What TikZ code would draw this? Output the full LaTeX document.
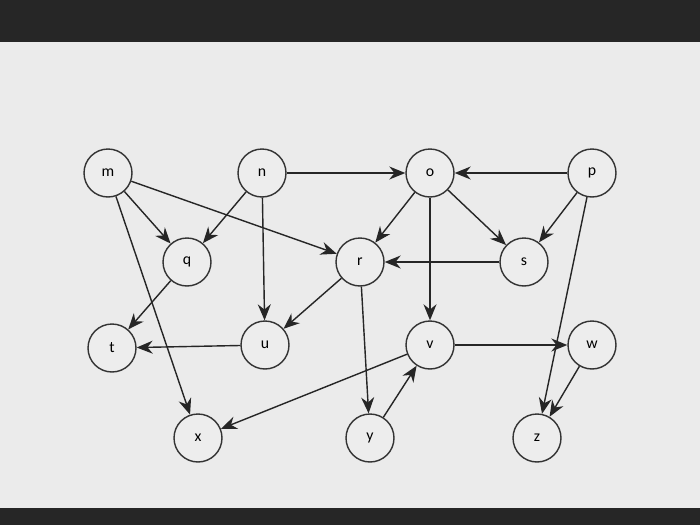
\documentclass[tikz,border=0pt]{standalone}
\usepackage{fontspec}
\setmainfont{Carlito}
\usetikzlibrary{arrows.meta}
\tikzset{
  vertex/.style={circle,draw=black!80,thick,fill=black!7,minimum size=0.96cm,inner sep=0pt,font=\small},
  edge/.style={thick,black!85,-{Stealth[length=3.2mm,width=2.6mm]}}
}
\begin{document}
\begin{tikzpicture}[x=0.02cm,y=-0.02cm]
\useasboundingbox (0,0) rectangle (700,525);
% screen
\fill [black!85] (0,0) rectangle (700,525);
\fill [black!8] (0,42) rectangle (700,508);

% Vertices
\node [vertex] (m) at (108,173) {m};
\node [vertex] (n) at (262,173) {n};
\node [vertex] (o) at (430,173) {o};
\node [vertex] (p) at (592,173) {p};
\node [vertex] (q) at (187,262) {q};
\node [vertex] (r) at (360,262) {r};
\node [vertex] (s) at (524,262) {s};
\node [vertex] (t) at (112,348) {t};
\node [vertex] (u) at (265,345) {u};
\node [vertex] (v) at (430,345) {v};
\node [vertex] (w) at (592,345) {w};
\node [vertex] (x) at (198,438) {x};
\node [vertex] (y) at (370,438) {y};
\node [vertex] (z) at (537,438) {z};

% Edges
\foreach \a/\b in {m/q,m/r,m/x,n/q,n/u,n/o,o/r,o/s,o/v,p/o,p/s,p/z,
                   q/t,r/u,r/y,s/r,u/t,v/w,v/x,w/z,y/v}
  \draw [edge] (\a) -- (\b);

\end{tikzpicture}
\end{document}
